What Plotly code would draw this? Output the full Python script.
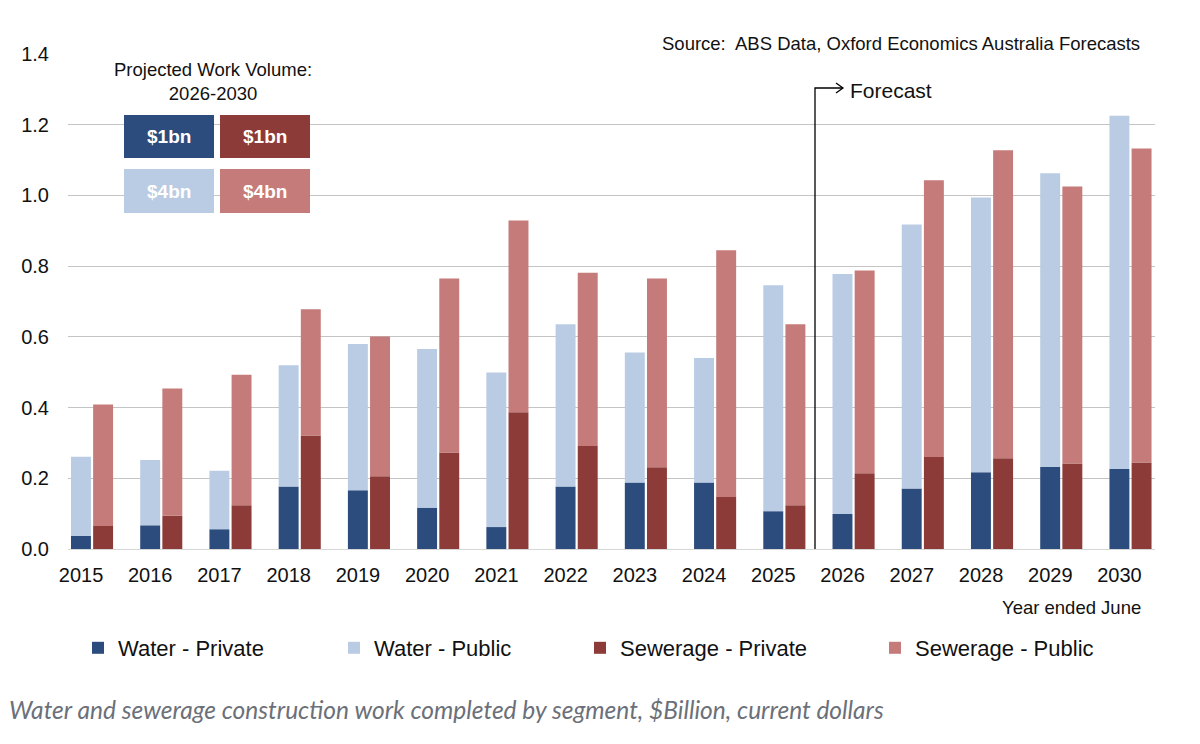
import plotly.graph_objects as go

years = [str(y) for y in range(2015, 2031)]
water_private = [0.037, 0.067, 0.056, 0.177, 0.166, 0.117, 0.062, 0.177, 0.188, 0.188, 0.107, 0.099, 0.171, 0.217, 0.232, 0.226]
water_public = [0.224, 0.185, 0.165, 0.343, 0.414, 0.449, 0.437, 0.459, 0.368, 0.352, 0.639, 0.679, 0.747, 0.777, 0.831, 0.999]
sewer_private = [0.065, 0.094, 0.124, 0.321, 0.206, 0.273, 0.387, 0.291, 0.231, 0.147, 0.124, 0.214, 0.260, 0.257, 0.242, 0.245]
sewer_public = [0.344, 0.360, 0.369, 0.357, 0.395, 0.492, 0.542, 0.490, 0.534, 0.698, 0.512, 0.574, 0.783, 0.871, 0.783, 0.888]
y_ticks = [0.0, 0.2, 0.4, 0.6, 0.8, 1.0, 1.2, 1.4]

C_WPRIV = "#2C4C7E"
C_WPUB = "#B9CCE4"
C_SPRIV = "#8C3B39"
C_SPUB = "#C47B79"
FONT = "Liberation Sans, Arial, sans-serif"

# plot area in pixels
L, R, T, B = 68, 1155, 54, 549
W, H = 1200, 744


def px(x):
    return (x - L) / (R - L)


def py(y):
    return (B - y) / (B - T)


base_w = water_private
base_s = sewer_private

fig = go.Figure()
fig.add_trace(go.Bar(x=years, y=water_private, name="Water - Private", offsetgroup="w",
                     marker=dict(color=C_WPRIV, line=dict(width=0)), legend="legend", showlegend=True))
fig.add_trace(go.Bar(x=years, y=water_public, base=base_w, name="Water - Public", offsetgroup="w",
                     marker=dict(color=C_WPUB, line=dict(width=0)), legend="legend2", showlegend=True))
fig.add_trace(go.Bar(x=years, y=sewer_private, name="Sewerage - Private", offsetgroup="s",
                     marker=dict(color=C_SPRIV, line=dict(width=0)), legend="legend3", showlegend=True))
fig.add_trace(go.Bar(x=years, y=sewer_public, base=base_s, name="Sewerage - Public", offsetgroup="s",
                     marker=dict(color=C_SPUB, line=dict(width=0)), legend="legend4", showlegend=True))

legend_common = dict(orientation="h", yanchor="middle", xanchor="left", y=py(648), visible=True,
                     font=dict(family=FONT, size=22, color="#111111"), bgcolor="rgba(0,0,0,0)")
text_starts = [118, 374, 620, 915]
layout_legends = {}
for i, ts in enumerate(text_starts):
    key = "legend" if i == 0 else f"legend{i+1}"
    layout_legends[key] = dict(legend_common, x=px(ts - 40))

shapes = []
# forecast divider line with arrow
fx, fy = 815, 88
shapes.append(dict(type="path", xref="paper", yref="paper",
                   path=f"M{px(fx)},{py(B)} L{px(fx)},{py(fy)} L{px(843)},{py(fy)}",
                   line=dict(color="#000000", width=1.3)))
shapes.append(dict(type="path", xref="paper", yref="paper",
                   path=f"M{px(836)},{py(fy-5)} L{px(843)},{py(fy)} L{px(836)},{py(fy+5)}",
                   line=dict(color="#000000", width=1.3)))

# projected work volume boxes
boxes = [
    (124, 115, 214, 158, C_WPRIV, "$1bn"),
    (220, 115, 310, 158, C_SPRIV, "$1bn"),
    (124, 169, 214, 213, C_WPUB, "$4bn"),
    (220, 169, 310, 213, C_SPUB, "$4bn"),
]
annotations = []
for x0, y0, x1, y1, col, txt in boxes:
    shapes.append(dict(type="rect", xref="paper", yref="paper", x0=px(x0), x1=px(x1),
                       y0=py(y1), y1=py(y0), fillcolor=col, line=dict(width=0), layer="above"))
    annotations.append(dict(xref="paper", yref="paper", x=px((x0 + x1) / 2), y=py((y0 + y1) / 2),
                            text=f"<b>{txt}</b>", showarrow=False, xanchor="center", yanchor="middle",
                            font=dict(family=FONT, size=19, color="#ffffff")))

annotations += [
    dict(xref="paper", yref="paper", x=px(213), y=py(81), text="Projected Work Volume:<br>2026-2030",
         showarrow=False, xanchor="center", yanchor="middle", align="center",
         font=dict(family=FONT, size=18.5, color="#111111")),
    dict(xref="paper", yref="paper", x=px(848), y=py(90), text="Forecast", showarrow=False,
         xanchor="left", yanchor="middle", font=dict(family=FONT, size=21, color="#111111")),
    dict(xref="paper", yref="paper", x=px(1142), y=py(43),
         text="Source:  ABS Data, Oxford Economics Australia Forecasts", showarrow=False,
         xanchor="right", yanchor="middle", font=dict(family=FONT, size=18.5, color="#111111")),
    dict(xref="paper", yref="paper", x=px(1143), y=py(607), text="Year ended June", showarrow=False,
         xanchor="right", yanchor="middle", font=dict(family=FONT, size=18.5, color="#111111")),
    dict(xref="paper", yref="paper", x=px(7), y=py(709),
         text="<i>Water and sewerage construction work completed by segment, $Billion, current dollars</i>",
         showarrow=False, xanchor="left", yanchor="middle",
         font=dict(family="Lato, sans-serif", size=24.5, color="#6b7079")),
]

fig.update_layout(
    width=W, height=H,
    margin=dict(l=L, r=W - R, t=T, b=H - B, pad=0),
    paper_bgcolor="#ffffff", plot_bgcolor="#ffffff",
    barmode="group", bargap=0.36, bargroupgap=0.1,
    showlegend=True,
    font=dict(family=FONT, color="#111111"),
    shapes=shapes, annotations=annotations,
    **layout_legends,
)
fig.update_xaxes(type="category", range=[-0.347, 15.354], showgrid=False, showline=False,
                 ticks="", tickfont=dict(family=FONT, size=20, color="#111111"),
                 ticklabelshift=-11, ticklabelstandoff=12)
fig.update_yaxes(range=[0, 1.4], tickvals=y_ticks, ticktext=[f"{v:.1f}" for v in y_ticks],
                 showgrid=True, gridcolor="#c4c4c4", gridwidth=1.3,
                 zeroline=True, zerolinecolor="#d6d6d6", zerolinewidth=1.3,
                 showline=False, ticks="", ticklabelstandoff=18,
                 tickfont=dict(family=FONT, size=20, color="#111111"))

fig.write_html("out.html")
